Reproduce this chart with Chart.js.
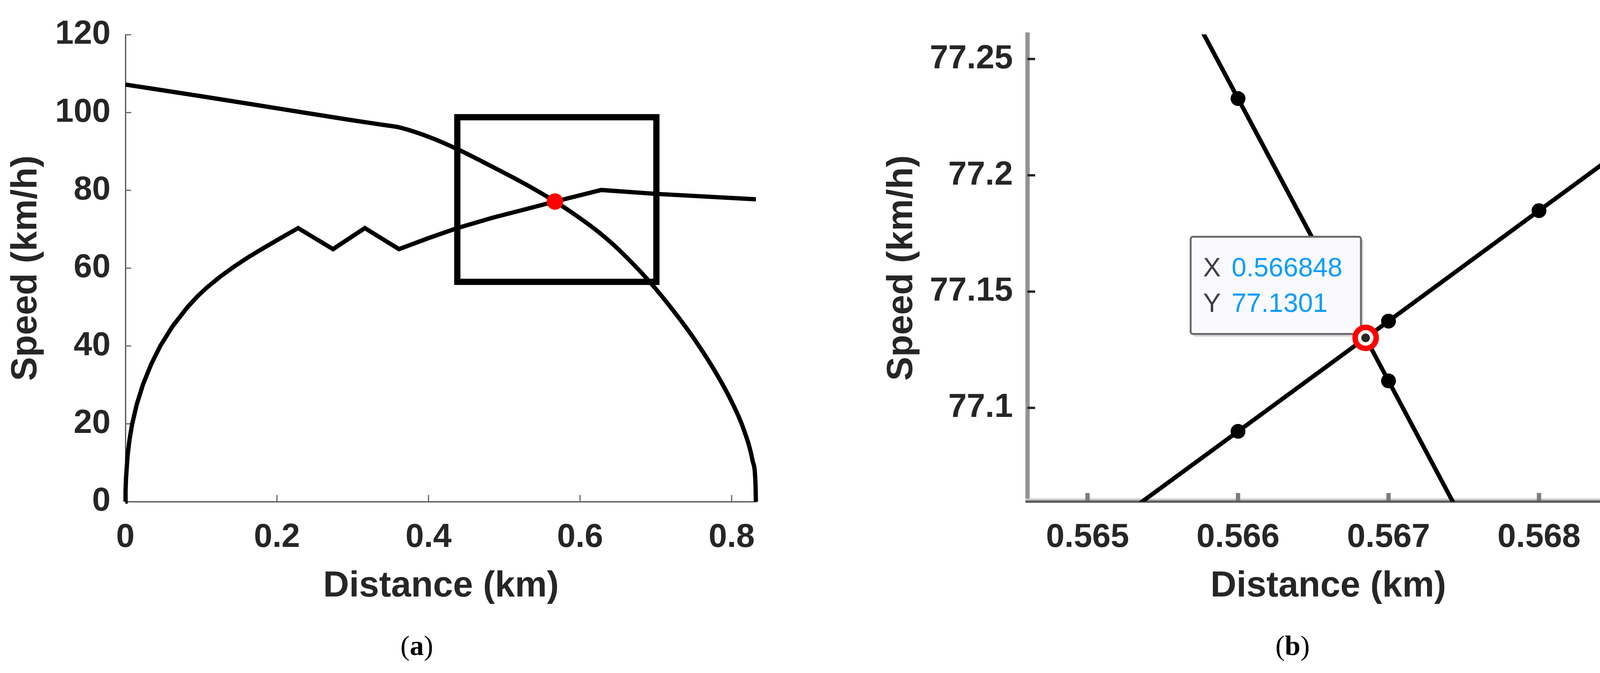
<!DOCTYPE html>
<html>
<head>
<meta charset="utf-8">
<script src="https://cdn.jsdelivr.net/npm/chart.js@4.4.1/dist/chart.umd.min.js"></script>
<style>
  html, body { margin: 0; padding: 0; background: #fff; }
  #page { position: relative; width: 4212px; height: 1724px; overflow: hidden; }
  canvas { position: absolute; top: 0; }
  .cap {
    position: absolute; top: 1604px; width: 400px; height: 100px; line-height: 100px;
    text-align: center; font-family: "Liberation Serif", "DejaVu Serif", serif; font-size: 72px; color: #000;
  }
</style>
</head>
<body>
<div id="page">
  <canvas id="left" width="2106" height="1724" style="left:0"></canvas>
  <canvas id="right" width="2106" height="1724" style="left:2106px"></canvas>
  <div class="cap" style="left:867px">(<b>a</b>)</div>
  <div class="cap" style="left:3109px">(<b>b</b>)</div>
</div>
<script>
// (a) full run: braking curve (upper) and acceleration curve (lower)
const brakeDist  = [0, 0.1, 0.2, 0.3, 0.345, 0.361, 0.401, 0.438, 0.485, 0.527, 0.567, 0.597, 0.625, 0.653, 0.69,
                    0.723, 0.751, 0.779, 0.801, 0.8155, 0.8278, 0.8315, 0.832]
const brakeSpeed = [107.2, 104.2, 101.1, 98.0, 96.7, 96.2, 93.7, 90.6, 86.0, 81.7, 77.13, 73.25, 69.2, 64.4, 56.9,
                    49.1, 41.7, 33.2, 25.3, 18.8, 10.4, 4.5, 0]

const accelDist  = [0, 0.0002, 0.0008, 0.0015, 0.003, 0.0055, 0.009, 0.015, 0.023, 0.034, 0.046, 0.062, 0.082, 0.095,
                    0.108, 0.125, 0.143, 0.162, 0.182, 0.205, 0.228,
                    0.274, 0.316, 0.361, 0.401, 0.438, 0.485, 0.527, 0.567, 0.628, 0.70, 0.832]
const accelSpeed = [0, 2.8, 5.8, 8, 12, 16, 20, 25, 30, 35.3, 40, 45, 50, 52.75,
                    55.1, 57.8, 60.35, 62.8, 65.15, 67.75, 70.3,
                    64.9, 70.3, 64.9, 67.8, 70.3, 73.0, 75.1, 77.13, 80.1, 79.1, 77.7]

// zoom window drawn on (a)
const boxDist  = [0.438, 0.7007, 0.7007, 0.438, 0.438]
const boxSpeed = [56.5, 56.5, 98.8, 98.8, 56.5]

// intersection
const crossDist  = [0.566848]
const crossSpeed = [77.1301]

// (b) zoomed samples (every 0.001 km)
const zoomDistA  = [0.565, 0.566, 0.567, 0.568]
const zoomSpeedA = [77.3544, 77.233, 77.1116, 76.990]
const zoomDistB  = [0.565, 0.566, 0.567, 0.568, 0.569]
const zoomSpeedB = [77.0425, 77.0899, 77.1373, 77.1848, 77.2322]

// ticks
const leftXTicks  = [0, 0.2, 0.4, 0.6, 0.8]
const leftYTicks  = [0, 20, 40, 60, 80, 100, 120]
const rightXTicks = [0.565, 0.566, 0.567, 0.568]
const rightYTicks = [77.1, 77.15, 77.2, 77.25]

const pts = (xs, ys) => xs.map((x, i) => ({ x: x, y: ys[i] }))
const FONT = '"Liberation Sans", Arial, sans-serif'
const TEXT = '#262626'

Chart.defaults.font.family = FONT
Chart.defaults.color = TEXT

// MATLAB style ticks pointing into the plot
const inwardTicks = {
  id: 'inwardTicks',
  beforeDatasetsDraw(chart, args, o) {
    const { ctx, chartArea: a, scales: { x, y } } = chart
    ctx.save()
    ctx.lineCap = 'butt'
    if (o.band) {
      ctx.fillStyle = '#c8c8c8'
      ctx.fillRect(a.left - 5, a.bottom - 8, a.right - a.left + 5, 5)
      ctx.fillStyle = '#5f5f5f'
      ctx.fillRect(a.left - 5, a.bottom - 3, a.right - a.left + 5, 6)
    }
    ctx.strokeStyle = o.yColor
    ctx.lineWidth = o.yWidth
    y.ticks.forEach(t => {
      const py = y.getPixelForValue(t.value)
      ctx.beginPath()
      ctx.moveTo(a.left, py)
      ctx.lineTo(a.left + o.yLen, py)
      ctx.stroke()
    })
    ctx.strokeStyle = o.xColor
    ctx.lineWidth = o.xWidth
    x.ticks.forEach(t => {
      const px = x.getPixelForValue(t.value)
      ctx.beginPath()
      ctx.moveTo(px, a.bottom - o.xStart)
      ctx.lineTo(px, a.bottom - o.xStart - o.xLen)
      ctx.stroke()
    })
    ctx.restore()
  }
}

// data tip box, drawn just before the red marker so the marker sits on its corner
const dataTip = {
  id: 'dataTip',
  beforeDatasetDraw(chart, args) {
    if (args.index !== 1) return
    const { ctx, scales: { x, y } } = chart
    const px = x.getPixelForValue(crossDist[0])
    const py = y.getPixelForValue(crossSpeed[0])
    const w = 436, h = 249
    const x0 = px - 12 - w, y0 = py - 10 - h
    ctx.save()
    ctx.fillStyle = '#d8d8d8'
    ctx.beginPath()
    ctx.roundRect(x0 + 6, y0 + 7, w, h, 6)
    ctx.fill()
    ctx.fillStyle = '#fafafe'
    ctx.strokeStyle = '#6b6b6b'
    ctx.lineWidth = 5
    ctx.beginPath()
    ctx.roundRect(x0, y0, w, h, 6)
    ctx.fill()
    ctx.stroke()
    ctx.font = '68px ' + FONT
    ctx.textBaseline = 'middle'
    ctx.textAlign = 'left'
    ctx.fillStyle = '#404040'
    ctx.fillText('X', x0 + 32, py - 176)
    ctx.fillText('Y', x0 + 32, py - 85)
    ctx.fillStyle = '#0a9cff'
    ctx.fillText(String(crossDist[0]), x0 + 105, py - 176)
    ctx.fillText(String(crossSpeed[0]), x0 + 105, py - 85)
    ctx.restore()
  }
}

function axis(min, max, ticks, side, opts) {
  return {
    type: 'linear',
    min: min,
    max: max,
    afterBuildTicks: s => { s.ticks = ticks.map(v => ({ value: v })) },
    afterFit: s => { if (side === 'x') s.height = opts.size; else s.width = opts.size },
    grid: { display: false, drawTicks: false },
    border: opts.border,
    ticks: {
      padding: opts.pad,
      maxRotation: 0,
      autoSkip: false,
      color: TEXT,
      font: { size: 85, weight: 'bold' },
      callback: v => String(v)
    },
    title: {
      display: true,
      text: side === 'x' ? 'Distance (km)' : 'Speed (km/h)',
      color: TEXT,
      font: { size: 92, weight: 'bold' },
      padding: side === 'x' ? { top: 0, bottom: 166 } : { top: opts.titlePad, bottom: 0 }
    }
  }
}

const common = {
  responsive: false,
  animation: false,
  devicePixelRatio: 1,
  events: [],
  plugins: { legend: { display: false }, tooltip: { enabled: false } }
}

// (a)
new Chart(document.getElementById('left'), {
  type: 'scatter',
  data: {
    datasets: [
      { data: pts(crossDist, crossSpeed), pointRadius: 21, pointBackgroundColor: '#ff0000', pointBorderWidth: 0 },
      { data: pts(boxDist, boxSpeed), showLine: true, borderColor: '#000', borderWidth: 16,
        borderJoinStyle: 'miter', borderCapStyle: 'square', pointRadius: 0 },
      { data: pts(brakeDist, brakeSpeed), showLine: true, borderColor: '#000', borderWidth: 11, pointRadius: 0,
        cubicInterpolationMode: 'monotone' },
      { data: pts(accelDist, accelSpeed), showLine: true, borderColor: '#000', borderWidth: 11, pointRadius: 0,
        tension: 0, borderJoinStyle: 'miter' }
    ]
  },
  options: Object.assign({}, common, {
    clip: false,
    layout: { padding: { left: 0, right: 169, top: 70, bottom: 0 } },
    scales: {
      x: axis(0, 0.833, leftXTicks, 'x', { size: 439, pad: 42, border: { color: '#4d4d4d', width: 3 } }),
      y: axis(0, 120, leftYTicks, 'y', { size: 321, pad: 38, titlePad: 12, border: { color: '#4d4d4d', width: 3 } })
    },
    plugins: Object.assign({}, common.plugins, {
      inwardTicks: { yColor: '#666', yWidth: 3, yLen: 15, xColor: '#666', xWidth: 3, xStart: 0, xLen: 17 }
    })
  }),
  plugins: [inwardTicks]
})

// (b)
new Chart(document.getElementById('right'), {
  type: 'scatter',
  data: {
    datasets: [
      { data: pts(crossDist, crossSpeed), pointRadius: 11, pointBackgroundColor: '#262626', pointBorderWidth: 0 },
      { data: pts(crossDist, crossSpeed), pointRadius: 27, pointBackgroundColor: '#fffaf0',
        pointBorderColor: '#ff0000', pointBorderWidth: 14 },
      { data: pts(zoomDistA, zoomSpeedA), showLine: true, borderColor: '#000', borderWidth: 11,
        pointRadius: 19, pointBackgroundColor: '#000', pointBorderWidth: 0, clip: 0 },
      { data: pts(zoomDistB, zoomSpeedB), showLine: true, borderColor: '#000', borderWidth: 11,
        pointRadius: 19, pointBackgroundColor: '#000', pointBorderWidth: 0, clip: 0 }
    ]
  },
  options: Object.assign({}, common, {
    layout: { padding: { left: 0, right: 38, top: 68, bottom: 0 } },
    scales: {
      x: axis(0.5646, 0.5686, rightXTicks, 'x', { size: 439, pad: 42, border: { display: false } }),
      y: axis(77.0597, 77.2606, rightYTicks, 'y', { size: 524, pad: 37, titlePad: 148, border: { color: '#939393', width: 11 } })
    },
    plugins: Object.assign({}, common.plugins, {
      inwardTicks: { band: true, yColor: '#262626', yWidth: 6, yLen: 20, xColor: '#7c7c7c', xWidth: 11, xStart: 3, xLen: 19 }
    })
  }),
  plugins: [inwardTicks, dataTip]
})
</script>
</body>
</html>
